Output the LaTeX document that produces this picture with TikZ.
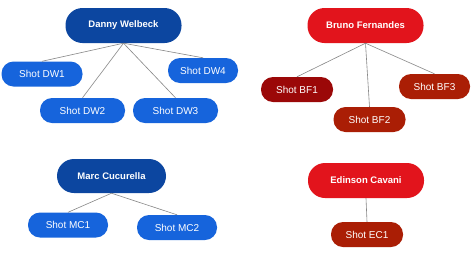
\documentclass[tikz,border=0pt]{standalone}
\usepackage{fontspec}
\setmainfont{Liberation Sans}
\usepackage{xcolor}
\definecolor{mainblue}{RGB}{12, 70, 160}
\definecolor{shotblue}{RGB}{22, 100, 220}
\definecolor{mainred}{RGB}{226, 20, 28}
\definecolor{shotred}{RGB}{170, 30, 5}
\definecolor{shotdark}{RGB}{155, 8, 8}
\definecolor{link}{RGB}{135, 135, 135}
\usetikzlibrary{positioning}

\begin{document}
\begin{tikzpicture}[x=1pt, y=-1pt,
  every node/.style={font=\fontsize{10}{12}\selectfont, text=white},
  player/.style={fill=mainblue, rounded corners=17pt, minimum width=116pt, minimum height=35pt, font=\fontsize{9.5}{11}\selectfont\bfseries},
  shot/.style={fill=shotblue, rounded corners=12pt, minimum width=81pt, minimum height=25pt},
  link/.style={draw=link, line width=0.6pt}
]
\useasboundingbox (0, 0) rectangle (474, 258);
\fill[white] (0, 0) rectangle (474, 258);

% Welbeck
\node[player] (dw) at (123.5, 25.5) {Danny Welbeck};
\node[shot] (dw1) at (42, 74) {Shot DW1};
\node[shot, minimum width=70pt] (dw4) at (203, 70.5) {Shot DW4};
\node[shot, minimum width=85pt] (dw2) at (82.5, 110.5) {Shot DW2};
\node[shot, minimum width=85pt] (dw3) at (175.5, 110.5) {Shot DW3};

% Fernandes
\node[player, fill=mainred] (bf) at (365.5, 25.5) {Bruno Fernandes};
\node[shot, fill=shotdark, minimum width=72pt] (bf1) at (297, 89.5) {Shot BF1};
\node[shot, fill=shotred, minimum width=72pt] (bf2) at (369.5, 119.5) {Shot BF2};
\node[shot, fill=shotred, minimum width=71pt] (bf3) at (434.5, 86.5) {Shot BF3};

% Cucurella
\node[player, minimum width=109pt, minimum height=34pt] (mc) at (111.5, 176) {Marc Cucurella};
\node[shot, minimum width=80pt] (mc1) at (68, 225) {Shot MC1};
\node[shot, minimum width=80pt] (mc2) at (177, 227.5) {Shot MC2};

% Cavani
\node[player, fill=mainred] (ec) at (366, 180.5) {Edinson Cavani};
\node[shot, fill=shotred, minimum width=72pt] (ec1) at (367, 234.5) {Shot EC1};

\foreach \c in {dw1, dw2, dw3, dw4} \draw[link] (dw.south) -- (\c.north);
\foreach \c in {bf1, bf2, bf3} \draw[link] (bf.south) -- (\c.north);
\foreach \c in {mc1, mc2} \draw[link] (mc.south) -- (\c.north);
\draw[link] (ec.south) -- (ec1.north);
\end{tikzpicture}
\end{document}
